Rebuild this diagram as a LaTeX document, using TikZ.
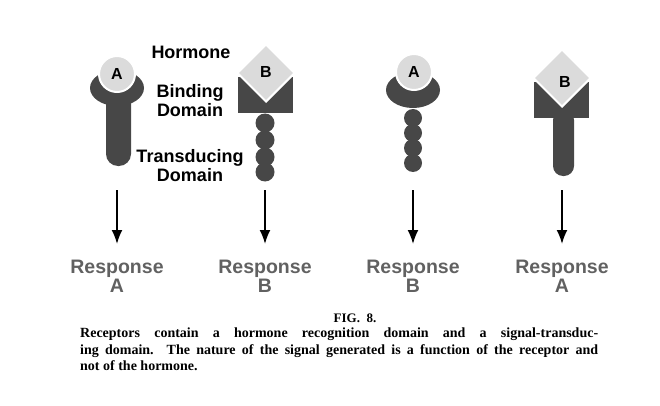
\documentclass[tikz,border=0pt]{standalone}
\usetikzlibrary{shapes.geometric,arrows.meta}
\usepackage{fontspec}
\setmainfont{Liberation Serif}
\newfontfamily\sans{Liberation Sans}
\begin{document}
\begin{tikzpicture}[x=1pt,y=-1pt,
  dark/.style={fill=black!72,draw=none},
  light/.style={fill=black!14,draw=white,line width=2pt},
  let/.style={font=\sans\bfseries\fontsize{16}{18}\selectfont},
  lbl/.style={font=\sans\bfseries\fontsize{18}{19}\selectfont,align=center,inner sep=0},
  resp/.style={font=\sans\bfseries\fontsize{19.5}{19}\selectfont,text=black!62,align=center,inner sep=0},
  arr/.style={-{Latex[length=14pt,width=11pt]},line width=1.8pt}]
\useasboundingbox (0,0) rectangle (660,406);
% receptor 1
\fill[dark,rounded corners=12pt] (106,88) rectangle (131,166);
\fill[dark] (117,88) ellipse [x radius=27,y radius=18];
\node[light,circle,minimum size=36pt,inner sep=0,let] (h1) at (117,74) {A};
% receptor 2
\fill[dark] (238,77) rectangle (293,113);
\node[light,diamond,minimum width=58pt,minimum height=58pt,inner sep=0] (h2) at (266,73) {};
\node[let] at (266,72) {B};
\foreach \y in {123,140,157,172} \fill[dark] (265,\y) circle (9.5);
% receptor 3
\foreach \y in {118,133,148,163} \fill[dark] (413,\y) circle (9);
\fill[dark] (413,90) ellipse [x radius=27,y radius=18];
\node[light,circle,minimum size=36pt,inner sep=0,let] (h3) at (414,72) {A};
% receptor 4
\fill[dark,rounded corners=10pt] (553,110) rectangle (574,176);
\fill[dark] (534,82) rectangle (589,118);
\node[light,diamond,minimum width=58pt,minimum height=58pt,inner sep=0] (h4) at (562,78) {};
\node[let] at (565,82) {B};
% labels
\node[lbl] (hor) at (191,52) {Hormone};
\node[lbl] (bd) at (190,101) {Binding\\Domain};
\node[lbl] (td) at (190,166) {Transducing\\Domain};
% arrows and responses
\foreach \x/\l/\n in {117/A/1,265/B/2,413/B/3,562/A/4}{
  \coordinate (s\n) at (\x,190);
  \node[resp] (r\n) at (\x,276) {Response\\\l};
  \draw[arr] (s\n) -- (\x,244);
}
\node[font=\bfseries\fontsize{13}{14}\selectfont] (fig) at (355,318) {FIG.\ \ 8.};
\node[font=\bfseries\fontsize{14}{16.5}\selectfont,text width=518pt,align=justify,inner sep=0,anchor=north west] (cap) at (80,328)
{Receptors contain a hormone recognition domain and a signal-transduc-\linebreak ing domain. The nature of the signal generated is a function of the receptor and not of the hormone.};
\end{tikzpicture}
\end{document}
